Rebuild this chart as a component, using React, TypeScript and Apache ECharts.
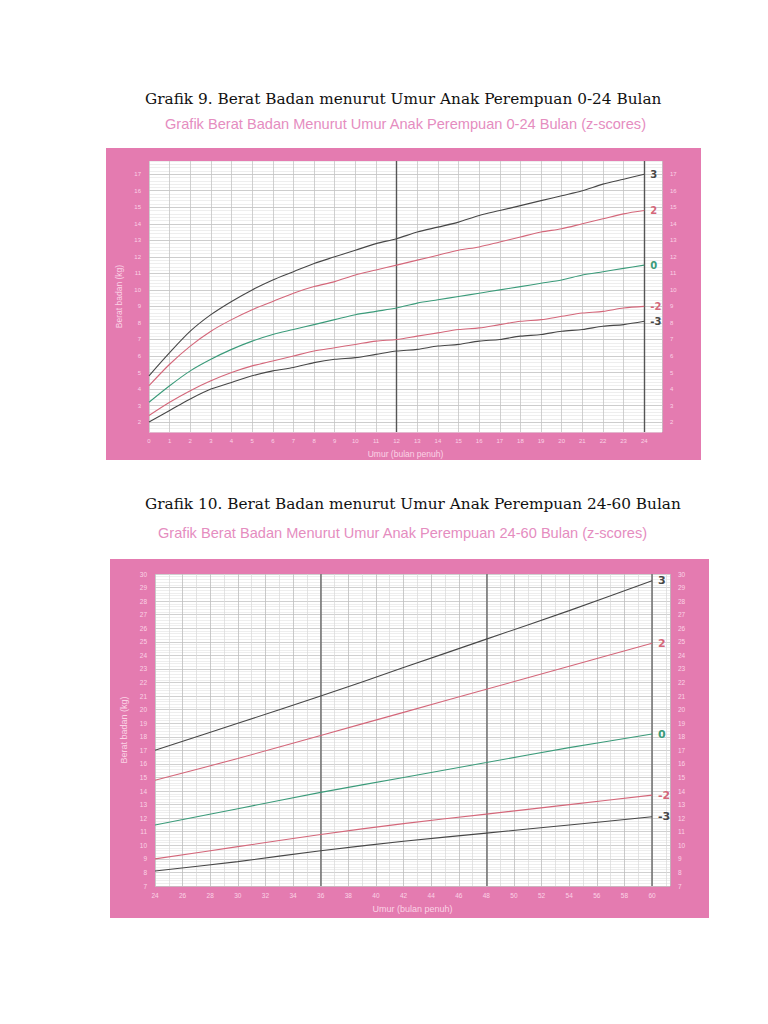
import { useEffect, useRef } from 'react';
import * as echarts from 'echarts';

// Grafik 9: 0-24 bulan
const umurA = [0, 1, 2, 3, 4, 5, 6, 7, 8, 9, 10, 11, 12, 13, 14, 15, 16, 17, 18, 19, 20, 21, 22, 23, 24];
const p3A = [4.8, 6.2, 7.5, 8.5, 9.3, 10.0, 10.6, 11.1, 11.6, 12.0, 12.4, 12.8, 13.1, 13.5, 13.8, 14.1, 14.5, 14.8, 15.1, 15.4, 15.7, 16.0, 16.4, 16.7, 17.0];
const p2A = [4.2, 5.5, 6.6, 7.5, 8.2, 8.8, 9.3, 9.8, 10.2, 10.5, 10.9, 11.2, 11.5, 11.8, 12.1, 12.4, 12.6, 12.9, 13.2, 13.5, 13.7, 14.0, 14.3, 14.6, 14.8];
const p0A = [3.2, 4.2, 5.1, 5.8, 6.4, 6.9, 7.3, 7.6, 7.9, 8.2, 8.5, 8.7, 8.9, 9.2, 9.4, 9.6, 9.8, 10.0, 10.2, 10.4, 10.6, 10.9, 11.1, 11.3, 11.5];
const m2A = [2.4, 3.2, 3.9, 4.5, 5.0, 5.4, 5.7, 6.0, 6.3, 6.5, 6.7, 6.9, 7.0, 7.2, 7.4, 7.6, 7.7, 7.9, 8.1, 8.2, 8.4, 8.6, 8.7, 8.9, 9.0];
const m3A = [2.0, 2.7, 3.4, 4.0, 4.4, 4.8, 5.1, 5.3, 5.6, 5.8, 5.9, 6.1, 6.3, 6.4, 6.6, 6.7, 6.9, 7.0, 7.2, 7.3, 7.5, 7.6, 7.8, 7.9, 8.1];
const yMayorA = [2, 3, 4, 5, 6, 7, 8, 9, 10, 11, 12, 13, 14, 15, 16, 17];
const xTebalA = [12, 24];

// Grafik 10: 24-60 bulan
const umurB = [24, 30, 36, 42, 48, 54, 60];
const p3B = [17.0, 19.0, 21.0, 23.1, 25.2, 27.3, 29.5];
const p2B = [14.8, 16.4, 18.1, 19.8, 21.5, 23.2, 24.9];
const p0B = [11.5, 12.7, 13.9, 15.0, 16.1, 17.2, 18.2];
const m2B = [9.0, 9.9, 10.8, 11.6, 12.3, 13.0, 13.7];
const m3B = [8.1, 8.8, 9.6, 10.3, 10.9, 11.5, 12.1];
const xTebalB = [36, 48, 60];

const zLabel = ['3', '2', '0', '-2', '-3'];

const HITAM = '#474747';
const MERAH = '#d4677a';
const HIJAU = '#3b9b7a';
const PINK = '#e47bb0';
const LABEL = '#fbd3e6';
const SANS = 'Liberation Sans, Arial, sans-serif';

const intOnly = (v: number) => {
  const r = Math.round(v);
  return Math.abs(v - r) < 1e-6 ? String(r) : '';
};

const pair = (xs: number[], ys: number[]) => xs.map((x, i) => [x, ys[i]]);

export default function App() {
  const ref = useRef<HTMLDivElement>(null);

  useEffect(() => {
    if (!ref.current) return;
    const chart = echarts.init(ref.current, undefined, { renderer: 'svg' });

    const kurva = (xi: number, xs: number[], sets: number[][], fs: number) =>
      sets.map((ys, k) => {
        const warna = [HITAM, MERAH, HIJAU, MERAH, HITAM][k];
        return {
          type: 'line',
          xAxisIndex: xi,
          yAxisIndex: xi * 2,
          data: pair(xs, ys),
          smooth: 0.3,
          showSymbol: false,
          silent: true,
          z: 5,
          lineStyle: { color: warna, width: 1.1 },
          endLabel: {
            show: true,
            formatter: zLabel[k],
            color: warna,
            fontSize: fs,
            fontWeight: 'bold',
            fontFamily: 'DejaVu Sans, sans-serif',
            distance: 6,
          },
        };
      });

    const labelSumbu = (fs: number, margin: number) => ({
      color: LABEL,
      fontSize: fs,
      fontFamily: SANS,
      margin,
      formatter: intOnly,
    });

    const judul = (text: string, left: number, top: number) => ({
      text,
      left,
      top,
      textStyle: { fontFamily: 'DejaVu Serif, serif', fontSize: 15.3, fontWeight: 'normal', color: '#111' },
    });
    const subjudul = (text: string, left: number, top: number) => ({
      text,
      left,
      top,
      textStyle: { fontFamily: SANS, fontSize: 14.6, fontWeight: 'normal', color: '#e58dbf' },
    });

    chart.setOption({
      animation: false,
      backgroundColor: '#ffffff',
      title: [
        judul('Grafik 9. Berat Badan menurut Umur Anak Perempuan 0-24 Bulan', 140, 86),
        subjudul('Grafik Berat Badan Menurut Umur Anak Perempuan 0-24 Bulan (z-scores)', 160, 111),
        judul('Grafik 10. Berat Badan menurut Umur Anak Perempuan 24-60 Bulan', 140, 491),
        subjudul('Grafik Berat Badan Menurut Umur Anak Perempuan 24-60 Bulan (z-scores)', 153, 520),
      ],
      graphic: [
        { type: 'rect', z: -10, shape: { x: 106, y: 148, width: 595, height: 312 }, style: { fill: PINK } },
        { type: 'rect', z: -10, shape: { x: 110, y: 559, width: 599, height: 359 }, style: { fill: PINK } },
      ],
      grid: [
        { left: 149, top: 161, width: 513, height: 271, show: true, backgroundColor: '#ffffff', borderWidth: 0 },
        { left: 155, top: 574, width: 515, height: 312, show: true, backgroundColor: '#ffffff', borderWidth: 0 },
      ],
      xAxis: [
        {
          type: 'value',
          gridIndex: 0,
          min: 0,
          max: 24.86,
          interval: 1,
          axisLine: { show: false },
          axisTick: { show: false },
          axisLabel: labelSumbu(6, 6),
          splitLine: { show: true, lineStyle: { color: '#c4c4c4', width: 0.8 } },
          name: 'Umur (bulan penuh)',
          nameLocation: 'middle',
          nameGap: 17,
          nameTextStyle: { color: LABEL, fontSize: 8.5, fontFamily: SANS },
        },
        {
          type: 'value',
          gridIndex: 1,
          min: 24,
          max: 61.3,
          interval: 2,
          axisLine: { show: false },
          axisTick: { show: false },
          minorTick: { show: false, splitNumber: 2 },
          axisLabel: labelSumbu(6.5, 6),
          splitLine: { show: true, lineStyle: { color: '#bdbdbd', width: 0.8 } },
          minorSplitLine: { show: true, lineStyle: { color: '#d9d9d9', width: 0.7 } },
          name: 'Umur (bulan penuh)',
          nameLocation: 'middle',
          nameGap: 18,
          nameTextStyle: { color: LABEL, fontSize: 9, fontFamily: SANS },
        },
      ],
      yAxis: [
        {
          type: 'value',
          gridIndex: 0,
          min: 1.4,
          max: 17.8,
          interval: 0.2,
          axisLine: { show: false },
          axisTick: { show: false },
          axisLabel: labelSumbu(6, 8),
          splitLine: { show: true, lineStyle: { color: '#e3e3e3', width: 0.6 } },
          name: 'Berat badan (kg)',
          nameLocation: 'middle',
          nameGap: 20,
          nameRotate: 90,
          nameTextStyle: { color: LABEL, fontSize: 8.5, fontFamily: SANS },
        },
        {
          type: 'value',
          gridIndex: 0,
          position: 'right',
          min: 1.4,
          max: 17.8,
          interval: 0.2,
          axisLine: { show: false },
          axisTick: { show: false },
          axisLabel: labelSumbu(6, 8),
          splitLine: { show: false },
        },
        {
          type: 'value',
          gridIndex: 1,
          min: 7,
          max: 30,
          interval: 1,
          axisLine: { show: false },
          axisTick: { show: false },
          minorTick: { show: false, splitNumber: 5 },
          axisLabel: labelSumbu(6.5, 8),
          splitLine: { show: true, lineStyle: { color: '#c4c4c4', width: 0.8 } },
          minorSplitLine: { show: true, lineStyle: { color: '#e3e3e3', width: 0.6 } },
          name: 'Berat badan (kg)',
          nameLocation: 'middle',
          nameGap: 22,
          nameRotate: 90,
          nameTextStyle: { color: LABEL, fontSize: 9, fontFamily: SANS },
        },
        {
          type: 'value',
          gridIndex: 1,
          position: 'right',
          min: 7,
          max: 30,
          interval: 1,
          axisLine: { show: false },
          axisTick: { show: false },
          axisLabel: labelSumbu(6.5, 8),
          splitLine: { show: false },
        },
      ],
      series: [
        {
          type: 'line',
          xAxisIndex: 0,
          yAxisIndex: 0,
          data: [],
          silent: true,
          z: 2,
          markLine: {
            silent: true,
            symbol: 'none',
            label: { show: false },
            data: [
              ...yMayorA.map((v) => ({ yAxis: v, lineStyle: { color: '#c4c4c4', width: 0.8, type: 'solid' } })),
              ...xTebalA.map((v) => ({ xAxis: v, lineStyle: { color: '#555555', width: 1.4, type: 'solid' } })),
            ],
          },
        },
        {
          type: 'line',
          xAxisIndex: 1,
          yAxisIndex: 2,
          data: [],
          silent: true,
          z: 2,
          markLine: {
            silent: true,
            symbol: 'none',
            label: { show: false },
            data: xTebalB.map((v) => ({ xAxis: v, lineStyle: { color: '#707070', width: 1.5, type: 'solid' } })),
          },
        },
        ...kurva(0, umurA, [p3A, p2A, p0A, m2A, m3A], 10),
        ...kurva(1, umurB, [p3B, p2B, p0B, m2B, m3B], 11),
      ],
    });

    return () => chart.dispose();
  }, []);

  return <div ref={ref} style={{ position: 'fixed', left: 0, top: 0, width: 768, height: 1024 }} />;
}
